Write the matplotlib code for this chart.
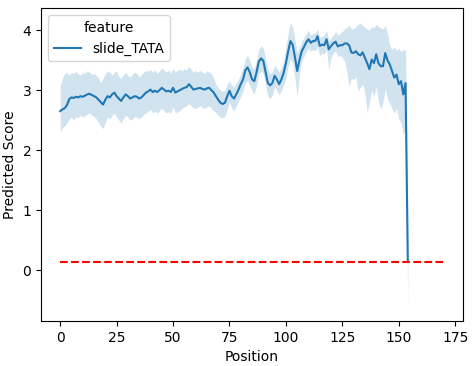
import matplotlib
matplotlib.use("Agg")
import matplotlib.pyplot as plt
import numpy as np

feature = "slide_TATA"
positions = list(range(155))
mean_score = [
    2.65, 2.68, 2.70, 2.75, 2.85, 2.88, 2.87, 2.89, 2.88, 2.90,
    2.89, 2.91, 2.93, 2.94, 2.92, 2.90, 2.88, 2.84, 2.80, 2.76,
    2.84, 2.90, 2.88, 2.93, 2.96, 2.90, 2.86, 2.82, 2.88, 2.93,
    2.90, 2.86, 2.88, 2.90, 2.89, 2.86, 2.88, 2.92, 2.96, 2.98,
    3.01, 2.97, 2.99, 2.97, 3.00, 3.04, 3.01, 2.98, 2.99, 2.97,
    3.04, 2.96, 2.98, 3.00, 3.02, 3.04, 3.05, 3.10, 3.06, 3.01,
    3.02, 3.03, 3.04, 3.02, 3.01, 3.03, 3.04, 3.00, 2.96, 2.90,
    2.84, 2.79, 2.77, 2.79, 2.90, 2.99, 2.90, 2.86, 2.93, 3.01,
    3.10, 3.18, 3.33, 3.38, 3.30, 3.18, 3.15, 3.30, 3.48, 3.53,
    3.49, 3.30, 3.12, 3.08, 3.12, 3.24, 3.18, 3.10, 3.18, 3.29,
    3.45, 3.65, 3.82, 3.76, 3.55, 3.32, 3.50, 3.65, 3.72, 3.80,
    3.85, 3.79, 3.82, 3.82, 3.90, 3.74, 3.76, 3.75, 3.85, 3.68,
    3.74, 3.78, 3.81, 3.73, 3.75, 3.75, 3.78, 3.78, 3.75, 3.63,
    3.62, 3.65, 3.60, 3.58, 3.63, 3.54, 3.45, 3.35, 3.51, 3.45,
    3.60, 3.45, 3.40, 3.40, 3.62, 3.50, 3.43, 3.32, 3.21, 3.26,
    3.10, 3.15, 2.93, 3.12, 0.14,
]
ci_upper = [
    3.07, 3.20, 3.28, 3.30, 3.25, 3.30, 3.28, 3.32, 3.27, 3.25,
    3.30, 3.28, 3.33, 3.30, 3.26, 3.28, 3.24, 3.20, 3.12, 3.20,
    3.28, 3.32, 3.30, 3.25, 3.30, 3.32, 3.22, 3.20, 3.26, 3.30,
    3.24, 3.22, 3.26, 3.30, 3.28, 3.22, 3.26, 3.30, 3.33, 3.32,
    3.35, 3.30, 3.34, 3.28, 3.32, 3.38, 3.33, 3.30, 3.34, 3.28,
    3.36, 3.30, 3.33, 3.35, 3.32, 3.36, 3.34, 3.40, 3.35, 3.30,
    3.33, 3.30, 3.33, 3.30, 3.28, 3.32, 3.30, 3.28, 3.20, 3.10,
    3.04, 3.00, 2.98, 3.00, 3.10, 3.16, 3.08, 3.05, 3.12, 3.18,
    3.28, 3.38, 3.52, 3.58, 3.50, 3.38, 3.36, 3.50, 3.68, 3.74,
    3.70, 3.52, 3.35, 3.28, 3.30, 3.42, 3.36, 3.30, 3.38, 3.50,
    3.72, 3.95, 4.12, 4.05, 3.85, 3.62, 3.72, 3.82, 3.88, 3.95,
    4.00, 3.92, 3.95, 3.96, 4.02, 3.88, 3.90, 3.92, 4.00, 3.82,
    3.88, 3.92, 3.98, 3.92, 3.95, 3.98, 4.02, 4.05, 4.08, 4.02,
    4.03, 4.06, 4.10, 4.12, 4.08, 4.05, 4.02, 4.00, 4.06, 4.04,
    4.10, 4.06, 4.04, 4.02, 4.08, 3.95, 3.75, 3.68, 3.72, 3.66,
    3.70, 3.64, 3.68, 3.66, 0.90,
]
ci_lower = [
    2.30, 2.38, 2.40, 2.45, 2.52, 2.55, 2.50, 2.56, 2.54, 2.58,
    2.55, 2.58, 2.60, 2.62, 2.58, 2.56, 2.52, 2.46, 2.40, 2.36,
    2.46, 2.55, 2.52, 2.58, 2.62, 2.55, 2.50, 2.45, 2.52, 2.58,
    2.55, 2.50, 2.52, 2.56, 2.55, 2.52, 2.55, 2.60, 2.62, 2.65,
    2.68, 2.62, 2.65, 2.62, 2.66, 2.70, 2.66, 2.62, 2.64, 2.62,
    2.72, 2.62, 2.64, 2.66, 2.70, 2.72, 2.74, 2.78, 2.74, 2.70,
    2.70, 2.72, 2.74, 2.71, 2.70, 2.72, 2.74, 2.70, 2.66, 2.62,
    2.58, 2.55, 2.54, 2.56, 2.68, 2.80, 2.70, 2.66, 2.74, 2.82,
    2.90, 2.98, 3.12, 3.16, 3.08, 2.98, 2.94, 3.08, 3.28, 3.32,
    3.28, 3.08, 2.90, 2.86, 2.92, 3.06, 3.00, 2.92, 3.00, 3.08,
    3.20, 3.40, 3.52, 3.45, 3.20, 2.90, 3.28, 3.48, 3.56, 3.64,
    3.70, 3.65, 3.68, 3.66, 3.72, 3.58, 3.62, 3.60, 3.68, 3.35,
    3.55, 3.62, 3.65, 3.56, 3.58, 3.55, 3.48, 3.30, 3.05, 3.20,
    3.18, 3.22, 2.98, 3.05, 3.10, 2.95, 2.62, 2.80, 3.00, 2.90,
    3.05, 2.82, 2.68, 2.80, 3.02, 2.85, 2.78, 2.70, 2.62, 2.70,
    2.52, 2.45, 2.25, 2.35, -0.62,
]
threshold = 0.14
threshold_span = [0, 170]

fig = plt.figure(figsize=(4.74, 3.66), dpi=100)
ax = fig.add_axes([0.0865, 0.123, 0.8905, 0.855])

color = "#1f77b4"
ax.fill_between(positions, ci_lower, ci_upper, color=color, alpha=0.2, linewidth=0)
ax.plot(positions, mean_score, color=color, lw=1.5, label=feature)
ax.hlines(threshold, threshold_span[0], threshold_span[1], colors="red", linestyles="--", lw=1.5)

ax.set_xlim(-8.5, 178.5)
ax.set_ylim(-0.85, 4.37)
ax.set_xticks([0, 25, 50, 75, 100, 125, 150, 175])
ax.set_yticks([0, 1, 2, 3, 4])
ax.set_xlabel("Position")
ax.set_ylabel("Predicted Score")
ax.legend(title="feature", loc="upper left")

fig.savefig("out.png", dpi=100)
